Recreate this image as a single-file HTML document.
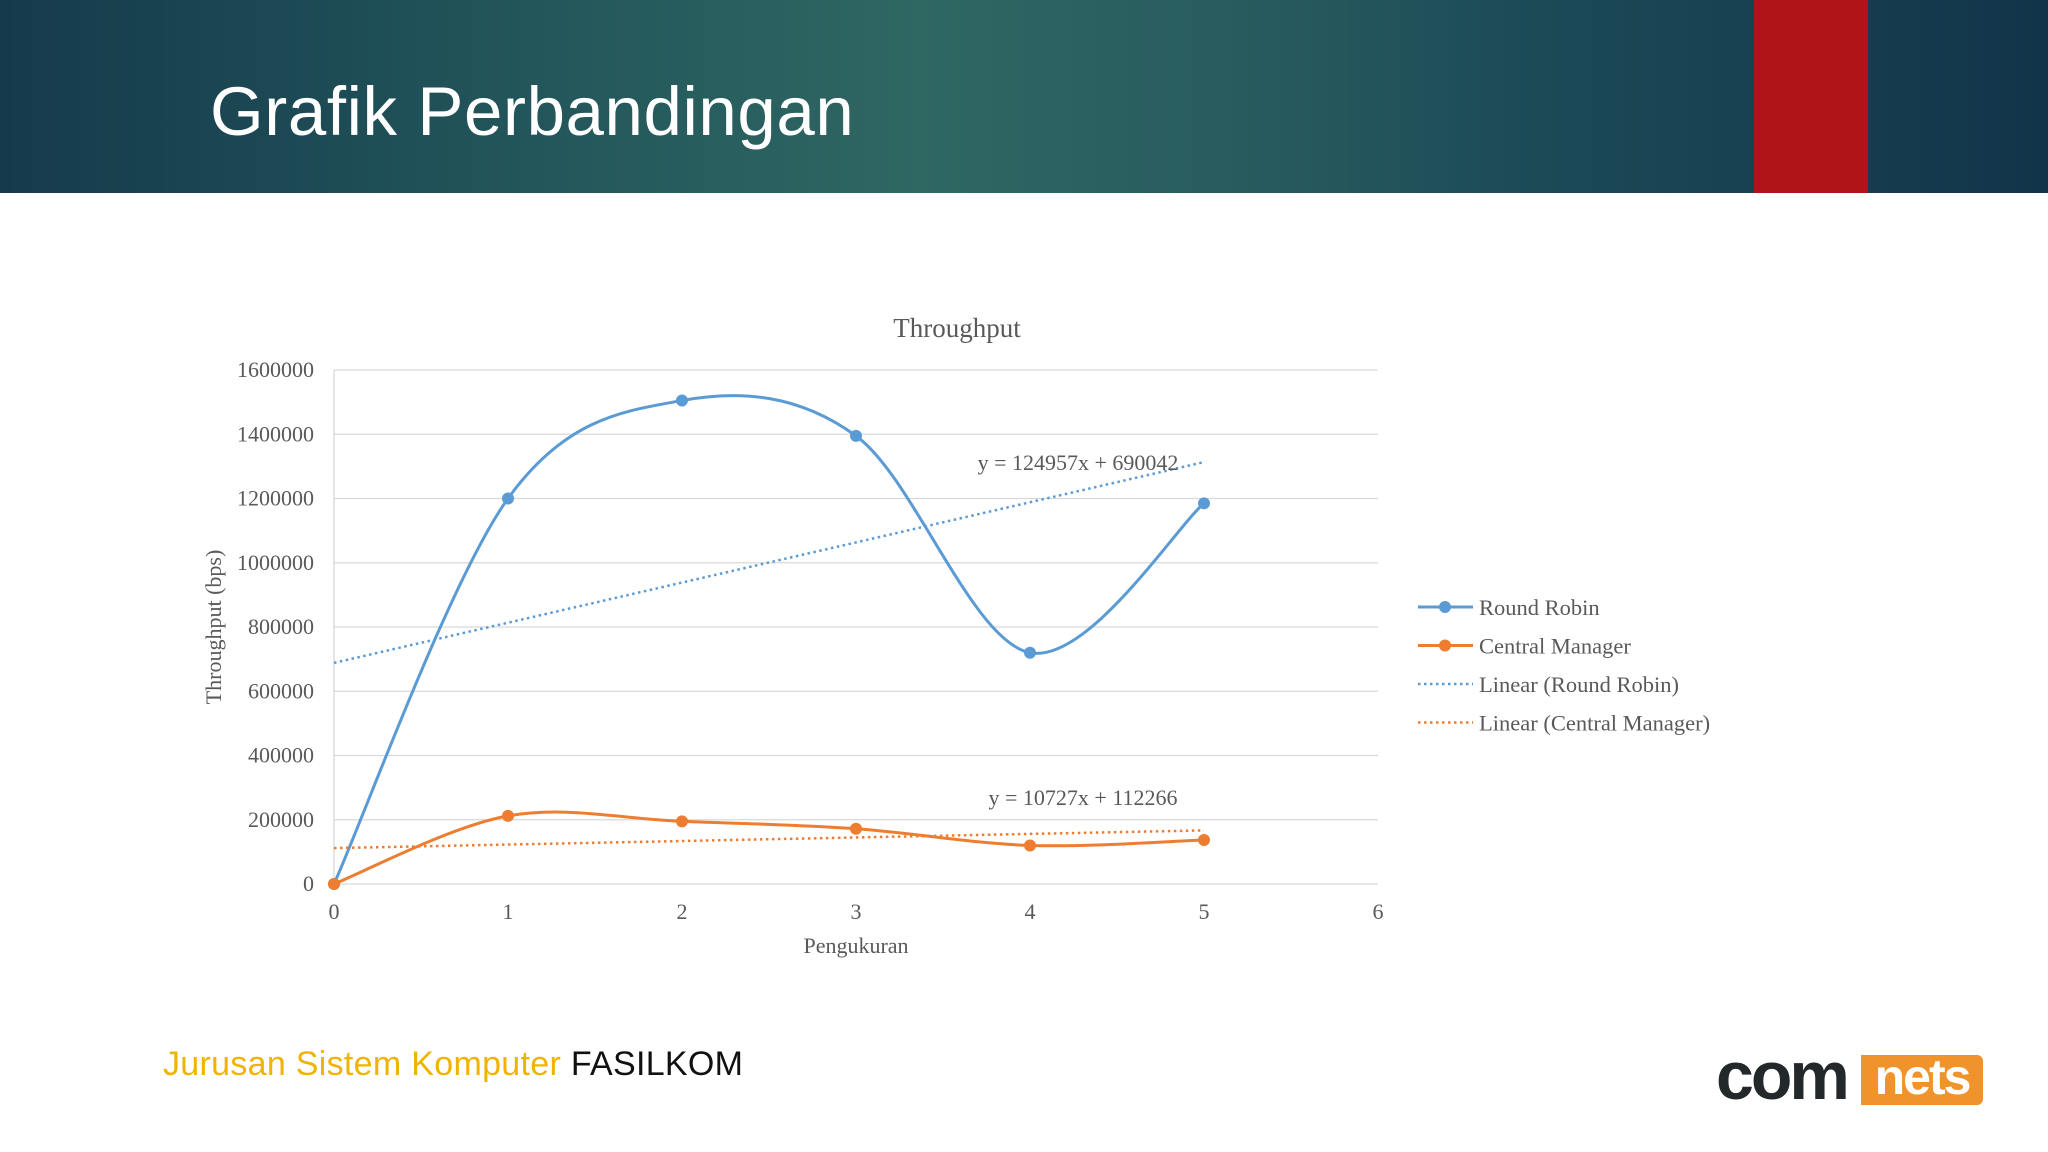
<!DOCTYPE html>
<html><head><meta charset="utf-8"><style>
html,body{margin:0;padding:0;width:2048px;height:1152px;overflow:hidden;background:#fff;}
#hdr{position:absolute;left:0;top:0;width:2048px;height:193px;background:linear-gradient(90deg,#153a4c 0%,#22555a 25%,#2f6763 45%,#275a5e 62%,#1c4a57 75%,#12344a 100%);}
#red{position:absolute;left:1754px;top:0;width:114px;height:193px;background:#b01419;}
#title{position:absolute;left:210px;top:72px;font:69px "Liberation Sans",sans-serif;color:#fff;letter-spacing:0.6px;}
#foot{position:absolute;left:163px;top:1045px;font:34px "Liberation Sans",sans-serif;color:#f0b400;letter-spacing:0.3px;}
#foot span{color:#111;}
#logo{position:absolute;left:1716px;top:1040px;font:bold 68px "Liberation Sans",sans-serif;color:#23282b;letter-spacing:-3px;line-height:72px;}
#nets{position:absolute;left:1861px;top:1055px;width:122px;height:50px;background:#f0932b;border-radius:0 6px 6px 0;color:#fff;font:bold 50px "Liberation Sans",sans-serif;line-height:44px;text-align:center;letter-spacing:-2px;}
svg{position:absolute;left:0;top:0;}
</style></head><body>
<div id="hdr"></div>
<div id="red"></div>
<div id="title">Grafik Perbandingan</div>
<div id="foot">Jurusan Sistem Komputer <span>FASILKOM</span></div>
<div id="logo">com</div>
<div id="nets">nets</div>
<svg id="chart" width="2048" height="1152"></svg>
<script>
const categories=[0,1,2,3,4,5];
const roundRobin=[0,1200000,1505000,1395000,720000,1185000];
const centralManager=[0,212000,195000,172000,120000,137000];
const yTicks=[0,200000,400000,600000,800000,1000000,1200000,1400000,1600000];
const xTicks=[0,1,2,3,4,5,6];
const equationLabels=['y = 124957x + 690042','y = 10727x + 112266'];
const NS='http://www.w3.org/2000/svg';
const svg=document.getElementById('chart');
const X0=334,X1=1378,Y0=884,Y1=370;
const sx=v=>X0+(v-0)/6*(X1-X0);
const sy=v=>Y0-(v/1600000)*(Y0-Y1);
function mk(t,a,p){const e=document.createElementNS(NS,t);for(const k in a)e.setAttribute(k,a[k]);(p||svg).appendChild(e);return e;}
const F='"Liberation Serif",serif';
yTicks.forEach(v=>{
 const l=mk('line',{x1:X0,x2:X1,y1:sy(v),y2:sy(v),stroke:'#d9d9d9','stroke-width':1.3});
 
 
 const t=mk('text',{x:314,y:sy(v)+7,'text-anchor':'end','font-family':F,'font-size':22,fill:'#595959'});t.textContent=v;
 
 
});
const ax=mk('line',{x1:X0,x2:X0,y1:Y1,y2:Y0,stroke:'#d9d9d9','stroke-width':1.3});


xTicks.forEach(v=>{
 const t=mk('text',{x:sx(v),y:919,'text-anchor':'middle','font-family':F,'font-size':22,fill:'#595959'});t.textContent=v;
 
 
});
function txt(s,x,y,sz,name,extra){const t=mk('text',Object.assign({x:x,y:y,'text-anchor':'middle','font-family':F,'font-size':sz,fill:'#595959'},extra||{}));t.textContent=s;
 
 return t;}
txt('Throughput',957,337,27,'chart-title');
txt('Pengukuran',856,953,22,'x-axis-title');
txt('Throughput (bps)',0,0,22,'y-axis-title',{transform:'translate(221,627) rotate(-90)'});
function reg(ys){const n=ys.length;let mx=0,my=0;categories.forEach((x,i)=>{mx+=x;my+=ys[i];});mx/=n;my/=n;let a=0,b=0;categories.forEach((x,i)=>{a+=(x-mx)*(ys[i]-my);b+=(x-mx)*(x-mx);});const s=a/b;return [s,my-s*mx];}
function smooth(ys){const p=categories.map((x,i)=>[sx(x),sy(ys[i])]);let d='M'+p[0];for(let i=0;i<p.length-1;i++){const a=p[Math.max(0,i-1)],b=p[i],c=p[i+1],e=p[Math.min(p.length-1,i+2)];const k=1/6;d+=' C'+(b[0]+(c[0]-a[0])*k)+','+(b[1]+(c[1]-a[1])*k)+' '+(c[0]-(e[0]-b[0])*k)+','+(c[1]-(e[1]-b[1])*k)+' '+c[0]+','+c[1];}return d;}
function series(ys,col,name,label,eqY,eqX){
 const [m,c]=reg(ys);
 const tl=mk('line',{x1:sx(0),y1:sy(c),x2:sx(5),y2:sy(c+5*m),stroke:col,'stroke-width':2.5,'stroke-dasharray':'2.5 3.5'});
 
 
 const p=mk('path',{d:smooth(ys),fill:'none',stroke:col,'stroke-width':3});
 
 
 ys.forEach((v,i)=>{const d=mk('circle',{cx:sx(categories[i]),cy:sy(v),r:6,fill:col});
  
  });
 txt(label,eqX,eqY,22,name+'-equation');
}
series(roundRobin,'#5b9bd5','round-robin',equationLabels[0],470,1078);
series(centralManager,'#ed7d31','central-manager',equationLabels[1],805,1083);
const leg=[['Round Robin','#5b9bd5',false],['Central Manager','#ed7d31',false],['Linear (Round Robin)','#5b9bd5',true],['Linear (Central Manager)','#ed7d31',true]];
leg.forEach((e,i)=>{const y=607+i*38.5;
 const l=mk('line',{x1:1418,x2:1473,y1:y,y2:y,stroke:e[1],'stroke-width':e[2]?2.5:3,'stroke-dasharray':e[2]?'2.5 3.5':'none'});
 
 
 if(!e[2]){const c=mk('circle',{cx:1445,cy:y,r:6,fill:e[1]});
 }
 const t=mk('text',{x:1479,y:y+8,'font-family':F,'font-size':22.5,fill:'#595959'});t.textContent=e[0];
 
 
});
</script>
</body></html>
